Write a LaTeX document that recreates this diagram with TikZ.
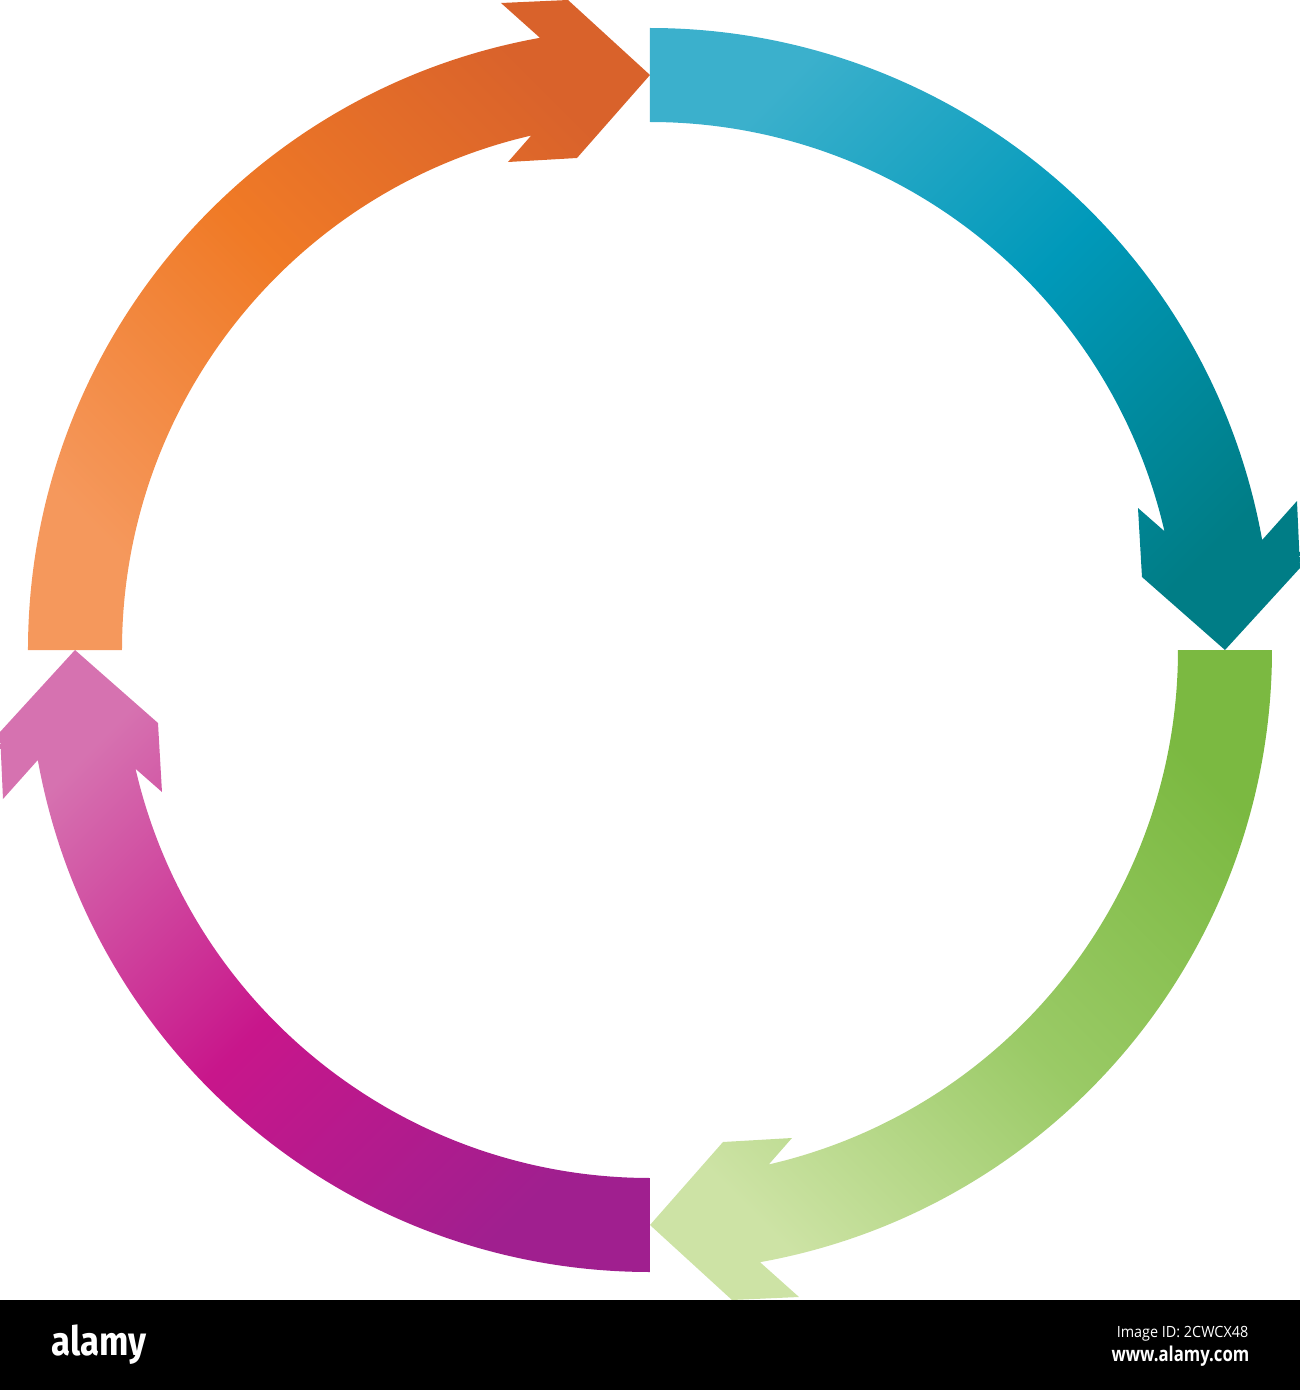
\documentclass[tikz,border=0pt]{standalone}
\usepackage{fontspec}
\newfontfamily\logofont{Fira Sans}
\newfontfamily\idfont{Open Sans}
\usetikzlibrary{positioning}

\definecolor{orangeA}{HTML}{F5985C}
\definecolor{orangeB}{HTML}{F07A26}
\definecolor{orangeC}{HTML}{D9622B}
\definecolor{tealA}{HTML}{3BB0CC}
\definecolor{tealB}{HTML}{0099BA}
\definecolor{tealC}{HTML}{007D86}
\definecolor{greenA}{HTML}{7BB941}
\definecolor{greenB}{HTML}{9ACA66}
\definecolor{greenC}{HTML}{CDE3A5}
\definecolor{pinkA}{HTML}{A01F8F}
\definecolor{pinkB}{HTML}{C8168B}
\definecolor{pinkC}{HTML}{D672B0}

\begin{document}
\begin{tikzpicture}[x=0.01cm, y=0.01cm,
		barlabel/.style={text=white, inner sep=0pt}]
		\useasboundingbox (-650,-740) rectangle (650,650);
		
		% four arrows, each a quarter turn further
		\foreach \rot/\ang/\ca/\cb/\cc in {0/135/orangeA/orangeB/orangeC,
			-90/45/tealA/tealB/tealC,
			-180/-45/greenA/greenB/greenC,
			-270/-135/pinkA/pinkB/pinkC}
		{
			\begin{scope}[rotate=\rot]
				\shade[left color=\ca, right color=\cc, middle color=\cb, shading angle=\ang]
				(-149,647) -- (-82,650) -- (0,575) -- (-73,492) -- (-142,488) -- (103:528)
				arc[start angle=103, end angle=180, radius=528] -- (180:622)
				arc[start angle=180, end angle=100.19, radius=622] -- cycle;
			\end{scope}
		}
		
		\fill[black] (-650,-740) rectangle (650,-650);
		\node[barlabel, anchor=base west, font=\logofont\bfseries\fontsize{11.5}{12}\selectfont] (logo) at (-599,-705) {\scalebox{0.86}[1]{alamy}};
		\node[barlabel, anchor=base east, font=\idfont\fontsize{4.4}{5}\selectfont] (imageid) at (599,-687) {\scalebox{0.93}[1]{Image ID: 2CWCX48}};
		\node[barlabel, anchor=base east, font=\idfont\bfseries\fontsize{5.8}{6}\selectfont] (site) at (600,-711) {\scalebox{0.82}[1]{www.alamy.com}};
	\end{tikzpicture}
\end{document}
